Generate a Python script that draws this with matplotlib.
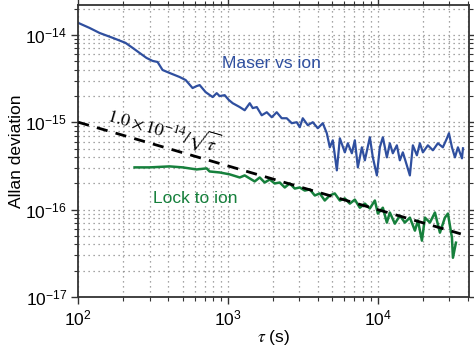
import numpy as np
import matplotlib
matplotlib.use("Agg")
import matplotlib.pyplot as plt

plt.rcParams['mathtext.fontset'] = 'stix'
plt.rcParams['font.family'] = ['Liberation Sans', 'DejaVu Sans']

# Maser vs ion
tau_maser = [100, 119, 139, 170, 207, 231, 257, 286, 314, 339, 366, 408, 476, 522,
             581, 618, 648, 710, 791, 842, 881, 952, 1013, 1077, 1200, 1295, 1400,
             1466, 1560, 1683, 1819, 1964, 2120, 2290, 2473, 2672, 2884, 3022, 3165,
             3420, 3692, 3988, 4306, 4581, 4797, 5024, 5346, 5598, 6045, 6329, 6735,
             7052, 7384, 7857, 8227, 8882, 9300, 9896, 10360, 10850, 11540, 12080,
             12650, 13460, 14090, 14760, 15700, 16440, 17220, 18320, 19180, 20090,
             21690, 23430, 25300, 27310, 29090, 29990, 31410, 32890, 34440, 36640, 37220]
adev_maser = [1.37e-14, 1.20e-14, 1.05e-14, 9.24e-15, 8.09e-15, 7.09e-15, 6.21e-15,
              5.44e-15, 5.03e-15, 4.89e-15, 3.96e-15, 3.66e-15, 3.29e-15, 3.04e-15,
              2.46e-15, 2.59e-15, 2.66e-15, 2.21e-15, 1.94e-15, 2.15e-15, 1.99e-15,
              2.04e-15, 1.80e-15, 1.65e-15, 1.49e-15, 1.37e-15, 1.65e-15, 1.45e-15,
              1.49e-15, 1.20e-15, 1.30e-15, 1.14e-15, 1.30e-15, 1.11e-15, 1.11e-15,
              9.74e-16, 1.00e-15, 8.76e-16, 1.11e-15, 9.24e-16, 1.00e-15, 8.53e-16,
              9.74e-16, 7.48e-16, 5.16e-16, 6.21e-16, 2.81e-16, 6.55e-16, 4.52e-16,
              5.74e-16, 4.41e-16, 6.21e-16, 3.04e-16, 5.16e-16, 3.66e-16, 6.73e-16,
              3.96e-16, 2.46e-16, 5.16e-16, 6.73e-16, 3.96e-16, 5.74e-16, 4.41e-16,
              5.44e-16, 3.66e-16, 4.52e-16, 3.20e-16, 2.46e-16, 5.44e-16, 4.18e-16,
              5.74e-16, 4.52e-16, 5.44e-16, 4.77e-16, 5.74e-16, 5.16e-16, 6.55e-16,
              7.48e-16, 5.16e-16, 3.96e-16, 5.16e-16, 3.86e-16, 5.03e-16]

# Lock to ion
tau_lock = [238, 300, 408, 499, 618, 721, 755, 881, 1028, 1200, 1295, 1400, 1511, 1632,
            1762, 1904, 2055, 2221, 2399, 2590, 2798, 3022, 3264, 3525, 3808, 4112,
            4440, 4797, 5177, 5598, 6045, 6528, 7052, 7614, 8227, 8882, 9594, 10050,
            10850, 11540, 12080, 13050, 14090, 15220, 16440, 17770, 18610, 19790,
            20730, 22380, 24170, 26110, 28190, 29530, 31410, 31890, 33400]
adev_lock = [3.04e-16, 3.04e-16, 3.12e-16, 3.04e-16, 2.88e-16, 2.96e-16, 2.73e-16,
             2.66e-16, 2.53e-16, 2.33e-16, 2.46e-16, 2.27e-16, 2.10e-16, 2.33e-16,
             2.04e-16, 2.21e-16, 1.99e-16, 2.04e-16, 1.79e-16, 1.99e-16, 1.74e-16,
             1.79e-16, 1.65e-16, 1.70e-16, 1.45e-16, 1.53e-16, 1.27e-16, 1.45e-16,
             1.53e-16, 1.27e-16, 1.34e-16, 1.17e-16, 1.30e-16, 1.05e-16, 1.17e-16,
             1.03e-16, 1.27e-16, 9.0e-17, 1.05e-16, 7.1e-17, 9.25e-17, 6.9e-17,
             8.53e-17, 7.1e-17, 8.09e-17, 5.74e-17, 7.48e-17, 4.41e-17, 8.09e-17,
             7.1e-17, 9.25e-17, 5.44e-17, 8.09e-17, 9.0e-17, 4.77e-17, 2.81e-17, 4.18e-17]

# 1e-14/sqrt(tau) guide line
tau_fit = np.array([100, 36000])
adev_fit = 1.0e-14 / np.sqrt(tau_fit)

blue = '#2f4f9f'
green = '#16803c'

fig = plt.figure(figsize=(4.74, 3.51), dpi=100)
ax = fig.add_axes([0.165, 0.154, 0.824, 0.832])

ax.loglog(tau_maser, adev_maser, color=blue, lw=1.6)
ax.loglog(tau_lock, adev_lock, color=green, lw=1.8)
ax.loglog(tau_fit, adev_fit, color='black', lw=2, dashes=(4, 3), zorder=5)

ax.set_xlim(100, 4.07e4)
ax.set_ylim(1e-17, 2.2e-14)

ax.grid(True, which='both', ls=(0, (1, 3)), color='#888888', lw=0.9)
for s in ax.spines.values():
    s.set_linewidth(1.3)
    s.set_color('#333333')
ax.tick_params(which='both', direction='out', top=True, right=True, color='#333333',
               labelsize=12.5, pad=3)
ax.tick_params(which='major', length=5, width=1)
ax.tick_params(which='minor', length=3, width=0.8)

ax.set_ylabel('Allan deviation', fontsize=12.5, labelpad=1)
ax.set_xlabel(r'$\tau$ (s)', fontsize=12.5, labelpad=0)

ax.text(0.368, 0.80, 'Maser vs ion', color=blue, fontsize=12.5,
        transform=ax.transAxes, va='center')
ax.text(0.192, 0.336, 'Lock to ion', color=green, fontsize=12.5,
        transform=ax.transAxes, va='center')
ax.text(0.217, 0.572, r'$1.0\times10^{-14}/\sqrt{\tau}$', transform=ax.transAxes,
        fontsize=13, rotation=-16, ha='center', va='center')

fig.savefig('out.png', dpi=100)
